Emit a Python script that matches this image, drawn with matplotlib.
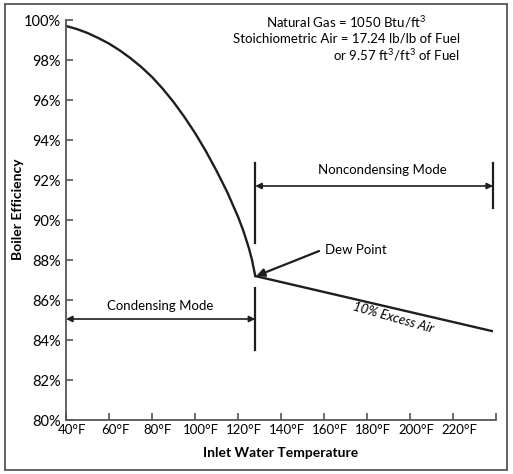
import matplotlib
matplotlib.use('Agg')
import matplotlib.pyplot as plt
import matplotlib.transforms as mtransforms
from matplotlib.patches import Rectangle

plt.rcParams['font.family'] = ['Lato', 'DejaVu Sans']
plt.rcParams['mathtext.fontset'] = 'custom'
plt.rcParams['mathtext.rm'] = 'Lato'

# condensing part of the curve (inlet temp F, efficiency %)
cond_temp = [40, 45, 50, 55, 60, 65, 70, 75, 80, 85, 90, 95, 100, 105, 110, 115, 120, 122.5, 125, 126.5, 128]
cond_eff = [99.7, 99.55, 99.35, 99.1, 98.82, 98.48, 98.09, 97.65, 97.15, 96.56, 95.9, 95.16,
            94.35, 93.45, 92.46, 91.39, 90.16, 89.45, 88.61, 88.0, 87.2]

# noncondensing part, 10% excess air
noncond_temp = [128, 180, 238]
noncond_eff = [87.2, 85.9, 84.45]

xticks = [40, 60, 80, 100, 120, 140, 160, 180, 200, 220, 240]
xtick_labels = ['40°F', '60°F', '80°F', '100°F', '120°F', '140°F', '160°F', '180°F', '200°F', '220°F', '']
yticks = [80, 82, 84, 86, 88, 90, 92, 94, 96, 98, 100]
ytick_labels = ['%d%%' % v for v in yticks]

dew_temp, dew_eff = 128, 87.2
line_col = '#1e1e1e'
axis_col = '#555555'

fig = plt.figure(figsize=(5.13, 4.74), dpi=100)
fig.patches.append(Rectangle((0.009, 0.008), 0.980, 0.983, transform=fig.transFigure,
                             fill=False, edgecolor='#555555', linewidth=1.3))
ax = fig.add_axes([0.1287, 0.1139, 0.8383, 0.8439])

ax.plot(cond_temp, cond_eff, color=line_col, linewidth=1.7, solid_joinstyle='round')
ax.plot(noncond_temp, noncond_eff, color=line_col, linewidth=1.7)

ax.set_xlim(40, 240)
ax.set_ylim(80, 100)
ax.set_xticks(xticks)
ax.set_xticklabels(xtick_labels)
ax.set_yticks(yticks)
ax.set_yticklabels(ytick_labels)
for s in ['top', 'right']:
    ax.spines[s].set_visible(False)
for s in ['left', 'bottom']:
    ax.spines[s].set_color(axis_col)
    ax.spines[s].set_linewidth(1.3)
ax.tick_params(direction='in', length=5, width=1.2, color=axis_col, pad=3)
ax.tick_params(axis='x', labelsize=9.5)
ax.tick_params(axis='y', labelsize=10.5, pad=4)
offset = mtransforms.ScaledTranslation(6 / 100, 0, fig.dpi_scale_trans)
for lab in ax.get_xticklabels():
    lab.set_transform(lab.get_transform() + offset)

ax.set_xlabel('Inlet Water Temperature', fontsize=10, fontweight='bold')
ax.xaxis.set_label_coords(0.498, -0.068)
ax.set_ylabel('Boiler Efficiency', fontsize=10, fontweight='bold', va='center')
ax.yaxis.set_label_coords(-0.112, 0.527)

# mode markers
ax.plot([dew_temp, dew_temp], [92.85, 88.85], color=line_col, linewidth=1.6)
ax.plot([dew_temp, dew_temp], [86.6, 83.5], color=line_col, linewidth=1.6)
ax.plot([238.6, 238.6], [92.85, 90.6], color=line_col, linewidth=1.6)

arrow = dict(arrowstyle='<|-|>', color=line_col, linewidth=1.2, mutation_scale=9, shrinkA=0, shrinkB=0)
ax.annotate('', xy=(238.6, 91.7), xytext=(dew_temp, 91.7), arrowprops=arrow)
ax.annotate('', xy=(40, 85.05), xytext=(dew_temp, 85.05), arrowprops=arrow)
ax.text(187, 92.5, 'Noncondensing Mode', ha='center', va='center', fontsize=9.5)
ax.text(84, 85.7, 'Condensing Mode', ha='center', va='center', fontsize=9.5)

ax.annotate('', xy=(dew_temp + 0.5, dew_eff), xytext=(157.7, 88.45),
            arrowprops=dict(arrowstyle='-|>', color=line_col, linewidth=1.6,
                            mutation_scale=12, shrinkA=0, shrinkB=0))
ax.text(160.5, 88.5, 'Dew Point', ha='left', va='center', fontsize=9.5)
ax.text(192, 85.1, '10% Excess Air', ha='center', va='center', fontsize=9.5,
        style='italic', rotation=-16, rotation_mode='anchor')

ax.text(0.652, 0.995, 'Natural Gas = 1050 Btu/ft$^3$', transform=ax.transAxes,
        ha='center', va='center', fontsize=9.5)
ax.text(0.916, 0.955, 'Stoichiometric Air = 17.24 lb/lb of Fuel', transform=ax.transAxes,
        ha='right', va='center', fontsize=9.5)
ax.text(0.916, 0.9125, 'or 9.57 ft$^3$/ft$^3$ of Fuel', transform=ax.transAxes,
        ha='right', va='center', fontsize=9.5)

fig.savefig('out.png', dpi=100, facecolor='white')
